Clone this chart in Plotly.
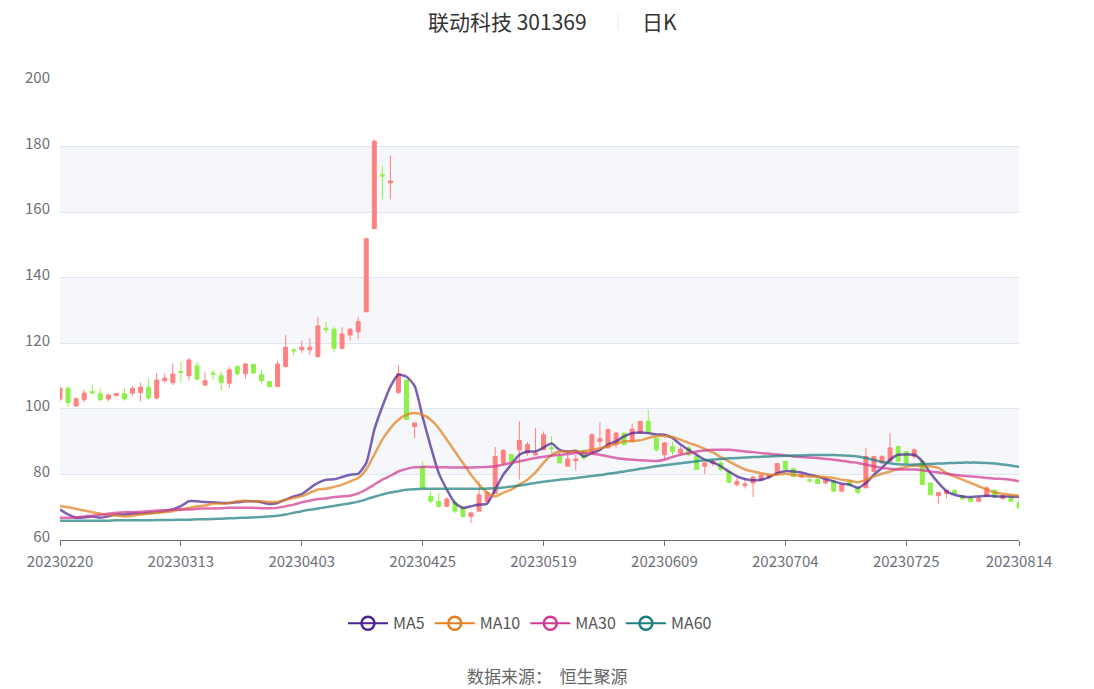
import plotly.graph_objects as go

# ---- data ----
months = {
    "202302": [20, 21, 22, 23, 24, 27, 28],
    "202303": [1, 2, 3, 6, 7, 8, 9, 10, 13, 14, 15, 16, 17, 20, 21, 22, 23, 24, 27, 28, 29, 30, 31],
    "202304": [3, 4, 6, 7, 10, 11, 12, 13, 14, 17, 18, 19, 20, 21, 24, 25, 26, 27, 28],
    "202305": [4, 5, 8, 9, 10, 11, 12, 15, 16, 17, 18, 19, 22, 23, 24, 25, 26, 29, 30, 31],
    "202306": [1, 2, 5, 6, 7, 8, 9, 12, 13, 14, 15, 16, 19, 20, 21, 26, 27, 28, 29, 30],
    "202307": [3, 4, 5, 6, 7, 10, 11, 12, 13, 14, 17, 18, 19, 20, 21, 24, 25, 26, 27, 28, 31],
    "202308": [1, 2, 3, 4, 7, 8, 9, 10, 11, 14],
}
dates = [m + "%02d" % d for m, ds in months.items() for d in ds]

opens = [103.0, 106.3, 100.9, 102.8, 105.3, 104.6, 103.0, 104.1, 104.6, 104.8,
         105.0, 106.6, 103.3, 108.6, 108.0, 111.4, 110.1, 113.1, 107.3, 110.9,
         110.1, 107.8, 112.9, 110.7, 113.6, 110.4, 108.3, 106.8, 112.9, 118.0,
         118.0, 118.0, 115.9, 124.6, 124.3, 118.5, 122.5, 123.5, 129.6, 155.0,
         171.4, 168.9, 105.0, 108.8, 94.6, 82.5, 73.3, 71.8, 70.3, 71.5,
         69.8, 67.2, 68.8, 71.8, 74.2, 83.5, 86.0, 87.5, 86.5, 86.0,
         87.5, 88.2, 85.5, 82.5, 84.2, 87.3, 86.5, 90.1, 88.1, 89.1,
         92.6, 90.1, 92.6, 96.2, 91.1, 86.0, 88.5, 86.5, 88.1, 85.5,
         82.5, 83.3, 83.5, 80.9, 76.9, 76.6, 77.4, 78.2, 79.2, 80.2,
         84.0, 81.7, 79.2, 78.4, 78.6, 77.4, 77.9, 74.9, 77.9, 75.9,
         75.9, 80.9, 83.5, 84.0, 88.5, 87.0, 85.5, 84.0, 77.4, 73.5,
         74.2, 75.2, 73.5, 72.8, 71.8, 73.3, 75.2, 72.6, 73.1, 71.3]
highs = [106.8, 107.0, 103.4, 105.8, 107.3, 106.2, 104.6, 104.9, 106.4, 107.0,
         108.0, 109.2, 110.9, 110.7, 113.9, 114.4, 115.5, 114.3, 111.1, 111.9,
         111.4, 112.7, 113.3, 113.9, 113.6, 111.9, 108.6, 114.7, 122.5, 118.5,
         120.8, 121.5, 128.1, 126.6, 125.1, 124.9, 124.6, 128.1, 151.9, 182.2,
         174.0, 177.3, 113.2, 108.8, 95.8, 84.0, 74.9, 74.4, 73.0, 72.4,
         70.6, 68.3, 77.9, 75.0, 88.4, 87.7, 86.3, 96.2, 89.9, 94.1,
         93.1, 91.8, 87.0, 87.5, 86.0, 87.7, 92.6, 95.9, 94.2, 93.0,
         92.6, 95.5, 96.2, 99.7, 91.1, 90.0, 90.1, 88.5, 88.7, 85.5,
         84.0, 84.7, 84.0, 81.2, 78.9, 78.6, 79.6, 80.2, 80.0, 83.6,
         84.0, 82.0, 80.4, 79.0, 78.9, 78.9, 78.2, 76.9, 78.4, 76.3,
         88.1, 85.5, 85.8, 92.6, 88.5, 87.0, 88.0, 84.0, 77.4, 74.5,
         75.4, 75.4, 73.8, 73.3, 73.3, 76.4, 75.2, 73.7, 73.3, 72.2]
lows = [102.2, 100.7, 100.6, 102.0, 104.6, 102.3, 102.3, 103.7, 102.5, 104.0,
        102.2, 102.9, 102.9, 108.0, 107.3, 108.0, 108.6, 108.6, 107.0, 108.8,
        105.5, 106.3, 109.9, 109.1, 110.9, 107.8, 106.4, 106.8, 112.6, 115.9,
        117.0, 116.4, 115.9, 123.1, 117.2, 118.0, 120.8, 121.2, 129.6, 155.0,
        163.9, 163.9, 104.5, 96.7, 91.1, 75.9, 71.1, 69.8, 69.9, 68.2,
        66.7, 65.2, 68.8, 71.2, 74.2, 82.7, 83.6, 78.4, 85.7, 85.7,
        87.5, 86.5, 83.5, 82.5, 81.2, 84.5, 86.0, 88.5, 88.1, 88.0,
        89.1, 90.1, 92.6, 92.6, 87.0, 84.7, 85.9, 86.0, 85.6, 81.5,
        80.2, 82.5, 81.0, 77.2, 76.2, 75.7, 73.1, 77.9, 78.5, 79.9,
        81.5, 79.1, 78.9, 77.4, 77.0, 77.1, 74.9, 74.9, 76.3, 73.8,
        75.9, 80.5, 83.5, 83.7, 84.0, 83.2, 84.8, 76.9, 73.8, 71.1,
        72.8, 74.0, 72.3, 71.4, 71.4, 73.0, 73.1, 72.4, 71.8, 69.4]
closes = [106.3, 101.9, 103.1, 104.8, 104.8, 102.8, 104.2, 104.7, 103.0, 106.2,
          106.6, 103.3, 108.8, 109.4, 110.6, 111.1, 114.9, 109.1, 108.6, 110.6,
          108.0, 111.9, 110.7, 113.7, 110.9, 108.6, 106.8, 113.7, 118.8, 117.7,
          118.8, 118.8, 125.3, 124.1, 118.5, 122.8, 124.3, 126.6, 151.9, 181.6,
          171.0, 169.5, 110.8, 96.7, 95.7, 75.9, 71.8, 70.3, 72.5, 68.8,
          67.2, 68.3, 73.8, 74.4, 85.5, 87.3, 84.0, 90.4, 89.1, 86.5,
          92.1, 87.8, 83.5, 84.7, 84.7, 85.0, 92.1, 90.9, 93.6, 92.6,
          89.1, 93.8, 96.2, 92.6, 87.5, 89.6, 87.0, 87.7, 86.0, 81.5,
          83.5, 84.0, 81.5, 77.6, 77.9, 77.1, 79.2, 79.9, 79.9, 83.3,
          81.6, 79.4, 79.9, 78.1, 77.2, 78.4, 74.9, 76.9, 76.6, 74.5,
          85.5, 85.5, 85.5, 88.1, 84.0, 83.5, 87.5, 76.9, 73.8, 74.5,
          75.2, 74.2, 72.5, 71.8, 72.7, 75.9, 73.1, 73.5, 71.8, 69.8]

ma5 = [69.3, 67.8, 66.8, 66.9, 67.2, 66.8, 67.2, 67.8, 67.8, 68.0,
       68.1, 68.3, 68.5, 68.8, 69.3, 70.3, 71.8, 71.8, 71.6, 71.5,
       71.3, 71.3, 71.5, 71.8, 71.8, 71.5, 71.0, 71.3, 72.3, 73.3,
       74.0, 75.8, 77.4, 78.4, 78.5, 79.2, 79.9, 80.2, 83.5, 93.6,
       100.7, 106.8, 110.4, 109.8, 107.0, 97.5, 88.5, 80.4, 75.4, 71.3,
       69.8, 70.3, 70.8, 71.1, 75.4, 79.9, 83.0, 86.0, 87.0, 87.0,
       88.2, 89.4, 87.5, 87.0, 87.2, 85.5, 86.5, 87.5, 89.1, 90.1,
       91.6, 92.6, 92.8, 92.6, 92.2, 92.1, 91.1, 89.1, 87.5, 86.0,
       84.5, 83.7, 82.5, 80.9, 79.4, 78.6, 78.2, 78.4, 79.2, 80.4,
       81.0, 80.9, 80.6, 79.9, 79.4, 78.6, 77.9, 77.2, 76.9, 75.9,
       77.4, 79.9, 82.0, 84.5, 86.0, 86.1, 86.0, 84.0, 80.4, 77.4,
       74.9, 73.8, 73.3, 73.1, 73.3, 73.5, 73.3, 73.3, 73.3, 73.1]
ma10 = [70.3, 70.0, 69.5, 69.0, 68.5, 68.0, 67.7, 67.5, 67.2, 67.4,
        67.8, 68.0, 68.3, 68.5, 68.8, 69.3, 69.8, 70.3, 70.5, 71.1,
        71.1, 71.3, 71.8, 72.0, 71.8, 71.8, 71.6, 71.6, 72.3, 72.8,
        73.4, 74.4, 75.4, 75.6, 76.2, 76.9, 77.9, 78.9, 81.5, 86.0,
        90.6, 94.1, 96.7, 98.2, 98.7, 98.2, 96.7, 94.1, 90.6, 87.0,
        83.5, 79.9, 76.9, 74.5, 73.3, 74.4, 75.4, 76.9, 78.4, 80.6,
        83.5, 86.0, 87.0, 87.0, 87.0, 87.0, 87.5, 88.0, 88.6, 89.4,
        90.1, 90.1, 90.4, 91.1, 91.7, 91.7, 91.4, 90.6, 89.6, 88.8,
        87.8, 86.7, 85.3, 84.0, 82.7, 81.5, 80.9, 80.4, 79.9, 79.9,
        80.2, 79.9, 79.6, 79.4, 79.4, 79.2, 78.9, 78.4, 78.1, 77.6,
        78.4, 79.4, 80.2, 80.9, 81.7, 82.3, 82.7, 82.5, 82.5, 82.0,
        80.4, 79.4, 78.4, 77.4, 76.4, 75.4, 74.5, 74.1, 73.8, 73.5]
ma30 = [66.8, 66.8, 66.9, 67.2, 67.4, 67.7, 68.0, 68.3, 68.5, 68.5,
        68.6, 68.8, 69.0, 69.1, 69.3, 69.3, 69.3, 69.5, 69.6, 69.6,
        69.7, 69.8, 69.8, 69.8, 69.8, 69.7, 69.7, 69.8, 70.3, 70.8,
        71.5, 72.0, 72.5, 72.7, 73.1, 73.3, 73.5, 74.2, 75.4, 76.9,
        78.4, 79.6, 80.9, 81.7, 82.2, 82.3, 82.3, 82.2, 82.2, 82.1,
        82.1, 82.1, 82.2, 82.3, 82.5, 83.0, 83.5, 84.0, 84.5, 85.0,
        85.4, 85.7, 86.0, 86.2, 86.5, 86.5, 86.3, 86.0, 85.5, 85.0,
        84.7, 84.5, 84.3, 84.2, 84.1, 84.5, 85.3, 86.0, 86.5, 87.0,
        87.3, 87.5, 87.5, 87.5, 87.3, 87.0, 86.8, 86.5, 86.3, 86.1,
        85.8, 85.5, 85.3, 85.2, 85.0, 84.7, 84.5, 84.2, 83.8, 83.5,
        83.0, 82.5, 82.0, 81.7, 81.5, 81.5, 81.5, 81.3, 80.9, 80.6,
        80.2, 79.9, 79.6, 79.4, 79.2, 78.9, 78.7, 78.6, 78.4, 77.9]
ma60 = [65.9, 65.9, 65.9, 65.9, 65.9, 65.9, 65.9, 66.0, 66.0, 66.0,
        66.0, 66.0, 66.1, 66.1, 66.1, 66.2, 66.2, 66.3, 66.3, 66.4,
        66.5, 66.6, 66.7, 66.8, 66.9, 67.0, 67.2, 67.4, 67.8, 68.3,
        68.8, 69.2, 69.6, 70.0, 70.4, 70.8, 71.2, 71.7, 72.4, 73.2,
        73.9, 74.5, 74.9, 75.3, 75.5, 75.6, 75.6, 75.6, 75.6, 75.6,
        75.6, 75.6, 75.6, 75.7, 75.8, 76.0, 76.3, 76.6, 77.0, 77.4,
        77.8, 78.1, 78.4, 78.6, 78.9, 79.2, 79.5, 79.8, 80.2, 80.5,
        80.9, 81.3, 81.7, 82.1, 82.5, 82.8, 83.1, 83.4, 83.7, 84.0,
        84.3, 84.5, 84.7, 84.9, 85.0, 85.2, 85.3, 85.4, 85.5, 85.6,
        85.7, 85.8, 85.8, 85.9, 85.9, 85.9, 85.9, 85.8, 85.7, 85.5,
        85.0, 84.4, 83.8, 83.4, 83.1, 83.0, 83.0, 83.1, 83.2, 83.3,
        83.4, 83.5, 83.6, 83.6, 83.6, 83.5, 83.3, 83.0, 82.7, 82.3]

ma_names = ["MA5", "MA10", "MA30", "MA60"]
ma_values = [ma5, ma10, ma30, ma60]
ma_colors = ["#4a2593", "#e3801f", "#d23a94", "#1f7f80"]

y_ticks = [60, 80, 100, 120, 140, 160, 180, 200]
x_tick_idx = [0, 15, 30, 45, 60, 75, 90, 105, 119]

FONT = "Noto Sans CJK SC, Noto Sans, sans-serif"
UP = "#ff8080"
DOWN = "#8ef04a"

fig = go.Figure()

fig.add_trace(go.Candlestick(
    x=dates, open=opens, high=highs, low=lows, close=closes,
    increasing=dict(line=dict(color=UP, width=1), fillcolor=UP),
    decreasing=dict(line=dict(color=DOWN, width=1), fillcolor=DOWN),
    whiskerwidth=0, showlegend=False, hoverinfo="skip",
))

for name, vals, col in zip(ma_names, ma_values, ma_colors):
    fig.add_trace(go.Scatter(
        x=dates, y=vals, mode="lines", name=name, showlegend=False,
        line=dict(color=col, width=2.5, shape="spline", smoothing=0.6),
        opacity=0.72, hoverinfo="skip",
    ))
for name, col in zip(ma_names, ma_colors):
    fig.add_trace(go.Scatter(
        x=[None], y=[None], mode="lines+markers", name=name,
        line=dict(color=col, width=2),
        marker=dict(symbol="circle-open", size=13, color=col, line=dict(width=2.5, color=col)),
    ))

# alternating split-area bands
shapes = []
for k in range(len(y_ticks) - 1):
    if k % 2 == 1:
        shapes.append(dict(type="rect", xref="paper", yref="y", x0=0, x1=1,
                           y0=y_ticks[k], y1=y_ticks[k + 1],
                           fillcolor="rgba(210,219,238,0.22)", line=dict(width=0), layer="below"))

fig.update_layout(
    width=1094, height=689,
    margin=dict(l=60, r=75, t=80.5, b=148.5),
    paper_bgcolor="white", plot_bgcolor="white",
    font=dict(family=FONT, color="#6e7079", size=15),
    showlegend=True,
    legend=dict(orientation="h", x=(530 - 60) / 959, xanchor="center",
                y=-83.5 / 460, yanchor="middle",
                font=dict(size=16, color="#555"), itemwidth=40,
                bgcolor="rgba(0,0,0,0)"),
    shapes=shapes,
    xaxis=dict(type="category", range=[0, len(dates) - 1], rangeslider=dict(visible=False),
               tickmode="array", tickvals=[dates[i] for i in x_tick_idx],
               ticktext=[dates[i] for i in x_tick_idx],
               showgrid=False, showline=True, linecolor="#6e7079", linewidth=1,
               ticks="outside", ticklen=5, tickcolor="#6e7079", ticklabelstandoff=3,
               tickfont=dict(size=15, color="#6e7079"), zeroline=False),
    yaxis=dict(range=[60, 200], tickvals=y_ticks, showgrid=True, gridcolor="#e0e6f1",
               gridwidth=1, zeroline=False, showline=False, ticks="",
               tickfont=dict(size=15, color="#6e7079"), ticklabelstandoff=9,
               ticklabelshift=-3),
    annotations=[
        dict(text="联动科技 301369", xref="paper", yref="paper",
             x=(507 - 60) / 959, y=1 + 60.5 / 460, xanchor="center", yanchor="middle",
             showarrow=False, font=dict(size=21, color="#333", family=FONT)),
        dict(text="日K", xref="paper", yref="paper",
             x=(659 - 60) / 959, y=1 + 60.5 / 460, xanchor="center", yanchor="middle",
             showarrow=False, font=dict(size=21, color="#333", family=FONT)),
        dict(text="│", xref="paper", yref="paper",
             x=(618 - 60) / 959, y=1 + 60.5 / 460, xanchor="center", yanchor="middle",
             showarrow=False, font=dict(size=16, color="#e6e6e6", family=FONT)),
        dict(text="数据来源：  恒生聚源", xref="paper", yref="paper",
             x=(547 - 60) / 959, y=-135.5 / 460, xanchor="center", yanchor="middle",
             showarrow=False, font=dict(size=17, color="#666", family=FONT)),
    ],
)

fig.write_html("out.html")
